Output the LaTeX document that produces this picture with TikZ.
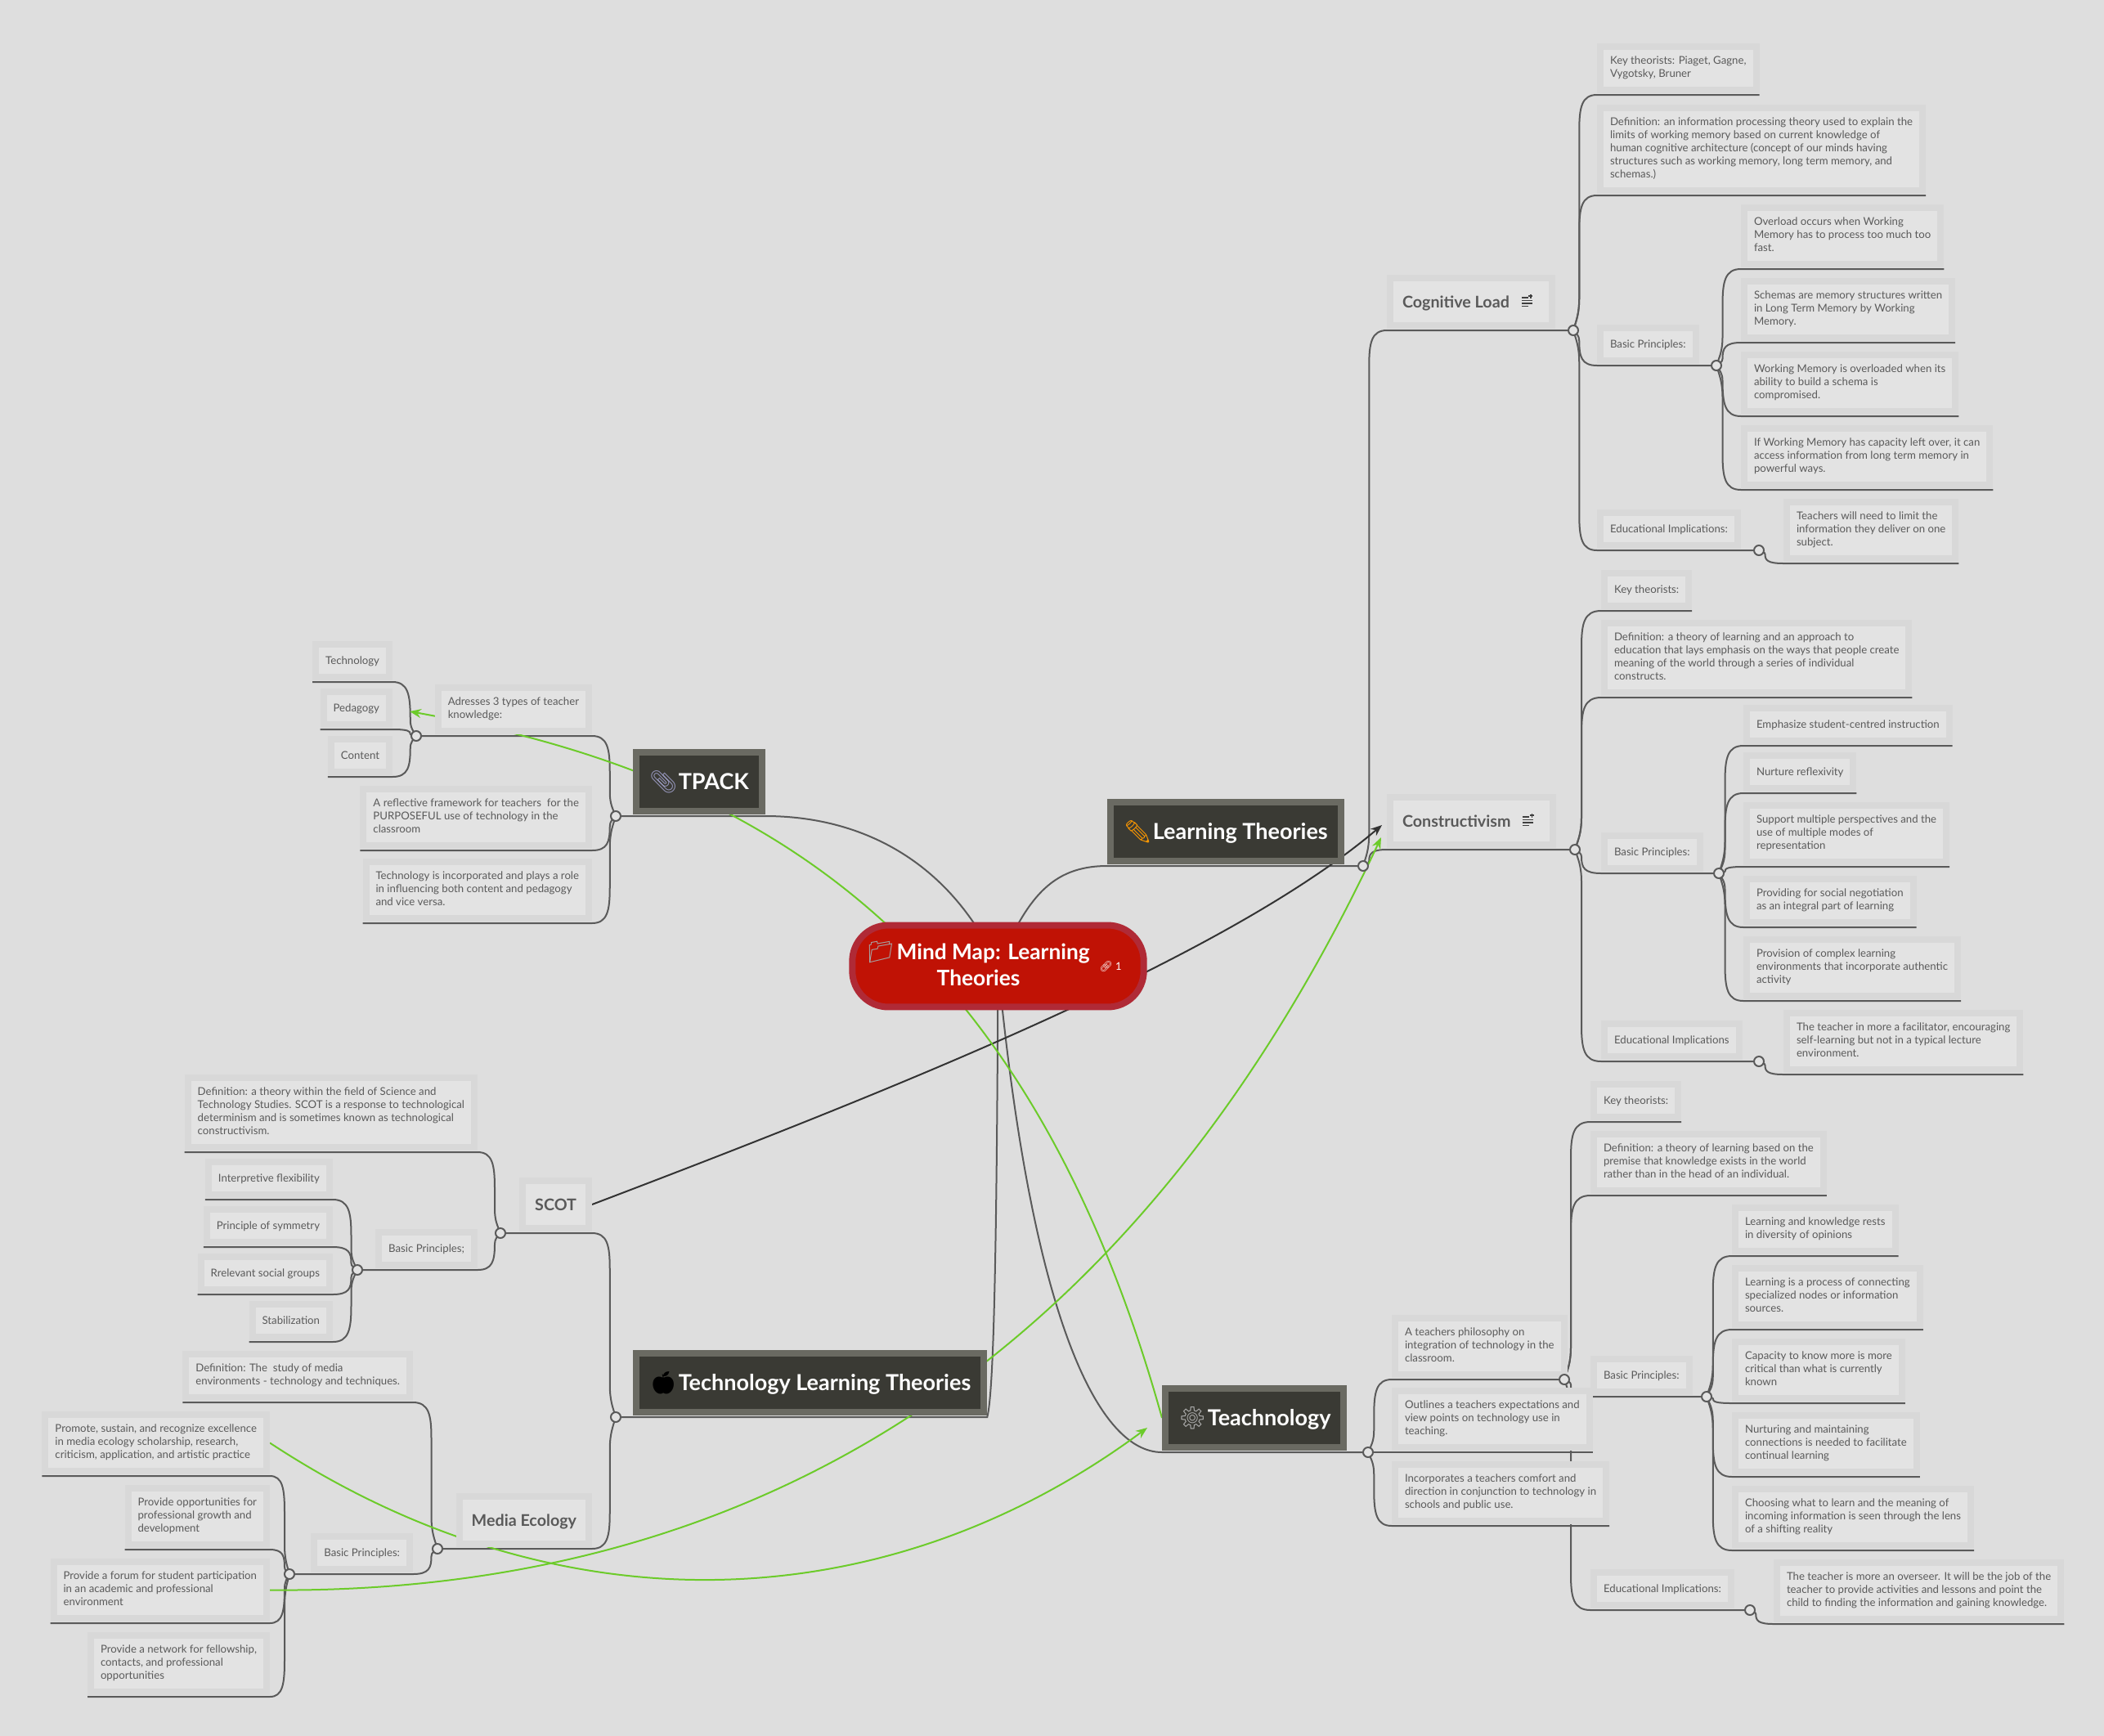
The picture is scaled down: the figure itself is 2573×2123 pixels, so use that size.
\documentclass[tikz,border=0pt]{standalone}
\usepackage{fontspec}
\setmainfont{Lato}
\newfontfamily\emojifont{Noto Emoji}
\usetikzlibrary{arrows.meta,backgrounds,calc}
\definecolor{paper}{HTML}{DEDEDE}
\definecolor{boxout}{HTML}{D8D8D8}
\definecolor{boxin}{HTML}{E3E3E3}
\definecolor{ink}{HTML}{5A5A5A}
\definecolor{darkin}{HTML}{3A3A34}
\definecolor{darkout}{HTML}{6A6A62}
\definecolor{rootin}{HTML}{C01205}
\definecolor{rootout}{HTML}{B02A36}
\definecolor{relgreen}{HTML}{6CCB2A}
\definecolor{relblack}{HTML}{333333}
\newcommand{\leaffont}{\fontsize{13.2pt}{16pt}\selectfont}
\newcommand{\midfont}{\fontsize{19.7pt}{24pt}\selectfont\bfseries}
\newcommand{\themefont}{\fontsize{27pt}{32pt}\selectfont\bfseries}
\newcommand{\lowstrut}{\rule[-0.206\baselineskip]{0pt}{\baselineskip}}
\newcommand{\rootstrut}{\rule[-3.6pt]{0pt}{32pt}}
\tikzset{
  leaf/.style={fill=boxin,draw=boxout,line width=8pt,outer xsep=4pt,outer ysep=6pt,inner xsep=12pt,inner ysep=12pt,align=left,text=ink,font=\leaffont,execute at begin node=\lowstrut,execute at end node=\lowstrut},
  midtopic/.style={leaf,inner xsep=15pt,inner ysep=17pt,font=\midfont},
  theme/.style={leaf,fill=darkin,draw=darkout,inner xsep=16pt,inner ysep=20pt,text=white,font=\themefont},
  hub/.style={circle,fill=boxin,draw=ink,line width=2pt,inner sep=0pt,minimum size=12pt},
  twig/.style={draw=ink,line width=2pt},
  relgr/.style={draw=relgreen,line width=2pt},
  relbl/.style={draw=relblack,line width=2pt},
  tip/.style={-{Stealth[length=14pt,width=11pt]}},
  branch/.style={to path={let \p1=(\tikztostart),\p2=(\tikztotarget),\n1={(\y2-\y1)*min(0.3,40/max(abs(\y2-\y1),1))},\n3={(\y2-\y1)*min(0.7,44/max(abs(\y2-\y1),1))},\n2={0.25*(\x2-\x1)} in .. controls (\x1+0.5*\n2,\y1+0.3*\n1) and (\x1+\n2,\y1+0.5*\n1) .. (\x1+\n2,\y1+\n1) -- (\x1+\n2,\y2-\n3) .. controls (\x1+\n2,\y2-0.35*\n3) and (\x1+1.4*\n2,\y2) .. (\x2,\y2)}},
  noteicon/.pic={
    \draw[line width=1.3pt,draw=ink!70!black] (-7,-4) -- (1,-4) (-7,-0.5) -- (6,-0.5) (-7,3) -- (6,3) (-7,6.5) -- (1,6.5) (4,-8.5) -- (4,-3.5) (1.5,-6) -- (6.5,-6);
  }
}
\begin{document}
\begin{tikzpicture}[x=1pt,y=-1pt]
  \useasboundingbox (0,0) rectangle (2573,2123);
  % main topics
  \node[leaf,fill=rootin,draw=rootout,rounded corners=44pt,inner xsep=18pt,inner ysep=19.5pt,align=center,text=white,font=\fontsize{26.3pt}{32pt}\selectfont\bfseries,execute at begin node=\rootstrut,execute at end node=\rootstrut] (root) at (1220.5,1181.5) {{\emojifont\textcolor{gray!70}{\symbol{"1F4C1}}}\hspace{3pt}Mind Map: Learning\hspace*{48pt}\\Theories\hspace*{48pt}};
  \node[font=\fontsize{13pt}{16pt}\selectfont,text=white] (link) at (1358,1182) {{\emojifont\symbol{"1F517}} 1};
  \node[theme,anchor=south west] (learn) at (1354,1059) {{\emojifont\textcolor{orange!80!yellow}{\symbol{"270F}}}\hspace{1.5pt}Learning Theories};
  \node[theme,anchor=south west] (tpack) at (774,998) {{\emojifont\textcolor{blue!20!gray!70}{\symbol{"1F4CE}}}\hspace{1.5pt}TPACK};
  \node[theme,anchor=south west] (techth) at (774,1733) {{\emojifont\textcolor{black}{\symbol{"1F34E}}}\hspace{1.5pt}Technology Learning Theories};
  \node[theme,anchor=south west] (teach) at (1421,1776) {{\emojifont\textcolor{gray!60}{\symbol{"2699}}}\hspace{1.5pt}Teachnology};
  \node[hub] (learnhub) at (1667,1059) {};
  \node[hub] (tpackhub) at (753,998) {};
  \node[hub] (techhub) at (753,1733) {};
  \node[hub] (teachhub) at (1673,1776) {};
  % cognitive load
  \node[midtopic,anchor=south west] (cogload) at (1696,404) {Cognitive Load\hspace*{37pt}};
  \pic at ($(cogload.east)+(-34,-1)$) {noteicon};
  \node[hub] (coghub) at (1924,404) {};
  \node[leaf,anchor=south west] (keycog) at (1953,116) {Key theorists: Piaget, Gagne,\\Vygotsky, Bruner};
  \node[leaf,anchor=south west] (defcog) at (1953,239) {Definition: an information processing theory used to explain the\\limits of working memory based on current knowledge of\\human cognitive architecture (concept of our minds having\\structures such as working memory, long term memory, and\\schemas.)};
  \node[leaf,anchor=south west] (bascog) at (1953,447) {Basic Principles:};
  \node[hub] (bascoghub) at (2099,447) {};
  \node[leaf,anchor=south west] (overload) at (2129,329) {Overload occurs when Working\\Memory has to process too much too\\fast.};
  \node[leaf,anchor=south west] (schemas) at (2129,419) {Schemas are memory structures written\\in Long Term Memory by Working\\Memory.};
  \node[leaf,anchor=south west] (wmem) at (2129,509) {Working Memory is overloaded when its\\ability to build a schema is\\compromised.};
  \node[leaf,anchor=south west] (ifwmem) at (2129,599) {If Working Memory has capacity left over, it can\\access information from long term memory in\\powerful ways.};
  \node[leaf,anchor=south west] (educog) at (1953,673) {Educational Implications:};
  \node[hub] (educoghub) at (2151,673) {};
  \node[leaf,anchor=south west] (limit) at (2181,689) {Teachers will need to limit the\\information they deliver on one\\subject.};
  % constructivism
  \node[midtopic,anchor=south west] (construct) at (1696,1039) {Constructivism\hspace*{37pt}};
  \pic at ($(construct.east)+(-34,-1)$) {noteicon};
  \node[hub] (conhub) at (1926,1039) {};
  \node[leaf,anchor=south west] (keycon) at (1958,747) {Key theorists:};
  \node[leaf,anchor=south west] (defcon) at (1958,853) {Definition: a theory of learning and an approach to\\education that lays emphasis on the ways that people create\\meaning of the world through a series of individual\\constructs.};
  \node[leaf,anchor=south west] (bascon) at (1958,1068) {Basic Principles:};
  \node[hub] (basconhub) at (2102,1068) {};
  \node[leaf,anchor=south west] (emphas) at (2132,912) {Emphasize student-centred instruction};
  \node[leaf,anchor=south west] (nurture) at (2132,970) {Nurture reflexivity};
  \node[leaf,anchor=south west] (support) at (2132,1060) {Support multiple perspectives and the\\use of multiple modes of\\representation};
  \node[leaf,anchor=south west] (negot) at (2132,1134) {Providing for social negotiation\\as an integral part of learning};
  \node[leaf,anchor=south west] (provis) at (2132,1224) {Provision of complex learning\\environments that incorporate authentic\\activity};
  \node[leaf,anchor=south west] (educon) at (1958,1298) {Educational Implications};
  \node[hub] (educonhub) at (2151,1298) {};
  \node[leaf,anchor=south west] (facil) at (2181,1314) {The teacher in more a facilitator, encouraging\\self-learning but not in a typical lecture\\environment.};
  % teachnology
  \node[leaf,anchor=south west] (philos) at (1702,1687) {A teachers philosophy on\\integration of technology in the\\classroom.};
  \node[hub] (philhub) at (1913,1687) {};
  \node[leaf,anchor=south west] (outline) at (1702,1776) {Outlines a teachers expectations and\\view points on technology use in\\teaching.};
  \node[leaf,anchor=south west] (incorp) at (1702,1866) {Incorporates a teachers comfort and\\direction in conjunction to technology in\\schools and public use.};
  \node[leaf,anchor=south west] (keytea) at (1945,1372) {Key theorists:};
  \node[leaf,anchor=south west] (deftea) at (1945,1462) {Definition: a theory of learning based on the\\premise that knowledge exists in the world\\rather than in the head of an individual.};
  \node[leaf,anchor=south west] (bastea) at (1945,1708) {Basic Principles:};
  \node[hub] (basteahub) at (2087,1708) {};
  \node[leaf,anchor=south west] (rests) at (2118,1536) {Learning and knowledge rests\\in diversity of opinions};
  \node[leaf,anchor=south west] (connect) at (2118,1626) {Learning is a process of connecting\\specialized nodes or information\\sources.};
  \node[leaf,anchor=south west] (capac) at (2118,1716) {Capacity to know more is more\\critical than what is currently\\known};
  \node[leaf,anchor=south west] (nurtur) at (2118,1806) {Nurturing and maintaining\\connections is needed to facilitate\\continual learning};
  \node[leaf,anchor=south west] (choos) at (2118,1896) {Choosing what to learn and the meaning of\\incoming information is seen through the lens\\of a shifting reality};
  \node[leaf,anchor=south west] (edutea) at (1945,1969) {Educational Implications:};
  \node[hub] (edutechub) at (2140,1969) {};
  \node[leaf,anchor=south west] (overse) at (2169,1986) {The teacher is more an overseer. It will be the job of the\\teacher to provide activities and lessons and point the\\child to finding the information and gaining knowledge.};
  % tpack
  \node[leaf,anchor=south east] (adress) at (724,900) {Adresses 3 types of teacher\\knowledge:};
  \node[hub] (adrhub) at (509,900) {};
  \node[leaf,anchor=south east] (tecno) at (480,834) {Technology};
  \node[leaf,anchor=south east] (pedag) at (480,892) {Pedagogy};
  \node[leaf,anchor=south east] (conten) at (480,950) {Content};
  \node[leaf,anchor=south east] (reflec) at (724,1040) {A reflective framework for teachers~ for the\\PURPOSEFUL use of technology in the\\classroom};
  \node[leaf,anchor=south east] (incorpt) at (724,1129) {Technology is incorporated and plays a role\\in influencing both content and pedagogy\\and vice versa.};
  % scot
  \node[midtopic,anchor=south east] (scot) at (724,1508) {SCOT};
  \node[hub] (scothub) at (612,1508) {};
  \node[leaf,anchor=south east] (defsco) at (584,1409) {Definition: a theory within the field of Science and\\Technology Studies. SCOT is a response to technological\\determinism and is sometimes known as technological\\constructivism.};
  \node[leaf,anchor=south east] (bassco) at (584,1553) {Basic Principles;};
  \node[hub] (basscohub) at (437,1553) {};
  \node[leaf,anchor=south east] (interp) at (407,1467) {Interpretive flexibility};
  \node[leaf,anchor=south east] (symme) at (407,1525) {Principle of symmetry};
  \node[leaf,anchor=south east] (social) at (407,1583) {Rrelevant social groups};
  \node[leaf,anchor=south east] (stabil) at (407,1641) {Stabilization};
  % media ecology
  \node[midtopic,anchor=south east] (media) at (724,1894) {Media Ecology};
  \node[hub] (mediahub) at (535,1894) {};
  \node[leaf,anchor=south east] (defmed) at (505,1715) {Definition: The~ study of media\\environments - technology and techniques.};
  \node[leaf,anchor=south east] (basmed) at (505,1925) {Basic Principles:};
  \node[hub] (basmedhub) at (354,1925) {};
  \node[leaf,anchor=south east] (promote) at (330,1805) {Promote, sustain, and recognize excellence\\in media ecology scholarship, research,\\criticism, application, and artistic practice};
  \node[leaf,anchor=south east] (growth) at (330,1895) {Provide opportunities for\\professional growth and\\development};
  \node[leaf,anchor=south east] (forum) at (330,1985) {Provide a forum for student participation\\in an academic and professional\\environment};
  \node[leaf,anchor=south east] (network) at (330,2075) {Provide a network for fellowship,\\contacts, and professional\\opportunities};
  % free ends of the relations
  \coordinate (tipcon) at (1690,1009);
  \coordinate (tipgreen) at (1689,1024);
  \coordinate (tipteach) at (1403,1746);
  \coordinate (tipadr) at (501,870);
  \begin{scope}[on background layer]
    \fill[paper] (0,0) rectangle (2573,2123);
    \draw[twig] (learn.south east) -- (learnhub.center);
    \draw[twig] (learnhub.center) -- (learn.south west) .. controls (1285,1059) and (1255,1100) .. (root.center);
    \draw[twig] (tpackhub.center) -- (tpack.south east) .. controls (1050,998) and (1160,1050) .. (root.center);
    \draw[twig] (techhub.center) -- (techth.south east) .. controls (1216,1700) and (1219,1500) .. (root.center);
    \draw[twig] (teachhub.center) -- (teach.south west) .. controls (1340,1776) and (1260,1600) .. (root.center);
    \draw[twig] (learnhub.center) to[branch] (cogload.south west) -- (cogload.south east) -- (coghub.center);
    \draw[twig] (learnhub.center) to[branch] (construct.south west) -- (construct.south east) -- (conhub.center);
    \draw[twig] (coghub.center) to[branch] (keycog.south west) -- (keycog.south east);
    \draw[twig] (coghub.center) to[branch] (defcog.south west) -- (defcog.south east);
    \draw[twig] (coghub.center) to[branch] (bascog.south west) -- (bascog.south east) -- (bascoghub.center);
    \draw[twig] (coghub.center) to[branch] (educog.south west) -- (educog.south east) -- (educoghub.center);
    \draw[twig] (bascoghub.center) to[branch] (overload.south west) -- (overload.south east);
    \draw[twig] (bascoghub.center) to[branch] (schemas.south west) -- (schemas.south east);
    \draw[twig] (bascoghub.center) to[branch] (wmem.south west) -- (wmem.south east);
    \draw[twig] (bascoghub.center) to[branch] (ifwmem.south west) -- (ifwmem.south east);
    \draw[twig] (educoghub.center) to[branch] (limit.south west) -- (limit.south east);
    \draw[twig] (conhub.center) to[branch] (keycon.south west) -- (keycon.south east);
    \draw[twig] (conhub.center) to[branch] (defcon.south west) -- (defcon.south east);
    \draw[twig] (conhub.center) to[branch] (bascon.south west) -- (bascon.south east) -- (basconhub.center);
    \draw[twig] (conhub.center) to[branch] (educon.south west) -- (educon.south east) -- (educonhub.center);
    \draw[twig] (basconhub.center) to[branch] (emphas.south west) -- (emphas.south east);
    \draw[twig] (basconhub.center) to[branch] (nurture.south west) -- (nurture.south east);
    \draw[twig] (basconhub.center) to[branch] (support.south west) -- (support.south east);
    \draw[twig] (basconhub.center) to[branch] (negot.south west) -- (negot.south east);
    \draw[twig] (basconhub.center) to[branch] (provis.south west) -- (provis.south east);
    \draw[twig] (educonhub.center) to[branch] (facil.south west) -- (facil.south east);
    \draw[twig] (teachhub.center) to[branch] (philos.south west) -- (philos.south east) -- (philhub.center);
    \draw[twig] (teachhub.center) -- (outline.south west) -- (outline.south east);
    \draw[twig] (teachhub.center) to[branch] (incorp.south west) -- (incorp.south east);
    \draw[twig] (philhub.center) to[branch] (keytea.south west) -- (keytea.south east);
    \draw[twig] (philhub.center) to[branch] (deftea.south west) -- (deftea.south east);
    \draw[twig] (philhub.center) to[branch] (bastea.south west) -- (bastea.south east) -- (basteahub.center);
    \draw[twig] (philhub.center) to[branch] (edutea.south west) -- (edutea.south east) -- (edutechub.center);
    \draw[twig] (basteahub.center) to[branch] (rests.south west) -- (rests.south east);
    \draw[twig] (basteahub.center) to[branch] (connect.south west) -- (connect.south east);
    \draw[twig] (basteahub.center) to[branch] (capac.south west) -- (capac.south east);
    \draw[twig] (basteahub.center) to[branch] (nurtur.south west) -- (nurtur.south east);
    \draw[twig] (basteahub.center) to[branch] (choos.south west) -- (choos.south east);
    \draw[twig] (edutechub.center) to[branch] (overse.south west) -- (overse.south east);
    \draw[twig] (tpackhub.center) to[branch] (adress.south east) -- (adress.south west) -- (adrhub.center);
    \draw[twig] (tpackhub.center) to[branch] (reflec.south east) -- (reflec.south west);
    \draw[twig] (tpackhub.center) to[branch] (incorpt.south east) -- (incorpt.south west);
    \draw[twig] (adrhub.center) to[branch] (tecno.south east) -- (tecno.south west);
    \draw[twig] (adrhub.center) to[branch] (pedag.south east) -- (pedag.south west);
    \draw[twig] (adrhub.center) to[branch] (conten.south east) -- (conten.south west);
    \draw[twig] (techhub.center) to[branch] (scot.south east) -- (scot.south west) -- (scothub.center);
    \draw[twig] (techhub.center) to[branch] (media.south east) -- (media.south west) -- (mediahub.center);
    \draw[twig] (scothub.center) to[branch] (defsco.south east) -- (defsco.south west);
    \draw[twig] (scothub.center) to[branch] (bassco.south east) -- (bassco.south west) -- (basscohub.center);
    \draw[twig] (basscohub.center) to[branch] (interp.south east) -- (interp.south west);
    \draw[twig] (basscohub.center) to[branch] (symme.south east) -- (symme.south west);
    \draw[twig] (basscohub.center) to[branch] (social.south east) -- (social.south west);
    \draw[twig] (basscohub.center) to[branch] (stabil.south east) -- (stabil.south west);
    \draw[twig] (mediahub.center) to[branch] (defmed.south east) -- (defmed.south west);
    \draw[twig] (mediahub.center) to[branch] (basmed.south east) -- (basmed.south west) -- (basmedhub.center);
    \draw[twig] (basmedhub.center) to[branch] (promote.south east) -- (promote.south west);
    \draw[twig] (basmedhub.center) to[branch] (growth.south east) -- (growth.south west);
    \draw[twig] (basmedhub.center) to[branch] (forum.south east) -- (forum.south west);
    \draw[twig] (basmedhub.center) to[branch] (network.south east) -- (network.south west);
    \draw[relbl,tip] (scot.east) .. controls (1100,1330) and (1500,1170) .. (tipcon);
    \draw[relgr,tip] (forum.east) .. controls (950,1950) and (1400,1640) .. (tipgreen);
    \draw[relgr,tip] (promote.east) .. controls (680,1995) and (1080,1985) .. (tipteach);
    \draw[relgr,tip] (teach.west) .. controls (1250,1120) and (901,942) .. (tipadr);
  \end{scope}
\end{tikzpicture}
\end{document}
